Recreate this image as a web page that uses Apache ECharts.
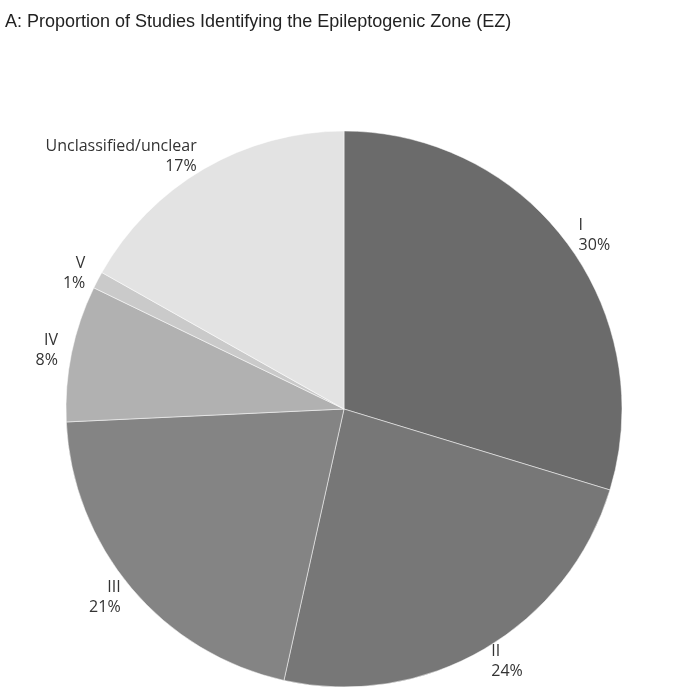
<!DOCTYPE html>
<html><head><meta charset="utf-8">
<script src="https://cdn.jsdelivr.net/npm/echarts@6/dist/echarts.min.js"></script>
<style>html,body{margin:0;background:#fff}#c{width:685px;height:700px}</style>
</head><body><div id="c"></div>
<script>
const categories = ['I','II','III','IV','V','Unclassified/unclear'];
const values = [30,24,21,8,1,17];
const colors = ['#6b6b6b','#777777','#848484','#b1b1b1','#cacaca','#e3e3e3'];
const chart = echarts.init(document.getElementById('c'));
chart.setOption({
  animation:false,
  title:{text:'A: Proportion of Studies Identifying the Epileptogenic Zone (EZ)',left:0,top:8,
    textStyle:{fontFamily:'Liberation Sans',fontSize:18,fontWeight:'normal',color:'#222'}},
  series:[{type:'pie',center:[344,409],radius:[0,278],startAngle:90,clockwise:true,
    data:categories.map((c,i)=>({name:c,value:values[i],itemStyle:{color:colors[i]}})),
    itemStyle:{borderColor:'#fff',borderWidth:0.5},
    label:{show:true,position:'outside',formatter:'{b}\n{c}%',fontFamily:'Open Sans',fontSize:16,
      color:'#333',lineHeight:20,align:'center',distanceToLabelLine:0},
    labelLine:{show:false,length:14,length2:0}
  }]
});
</script></body></html>
